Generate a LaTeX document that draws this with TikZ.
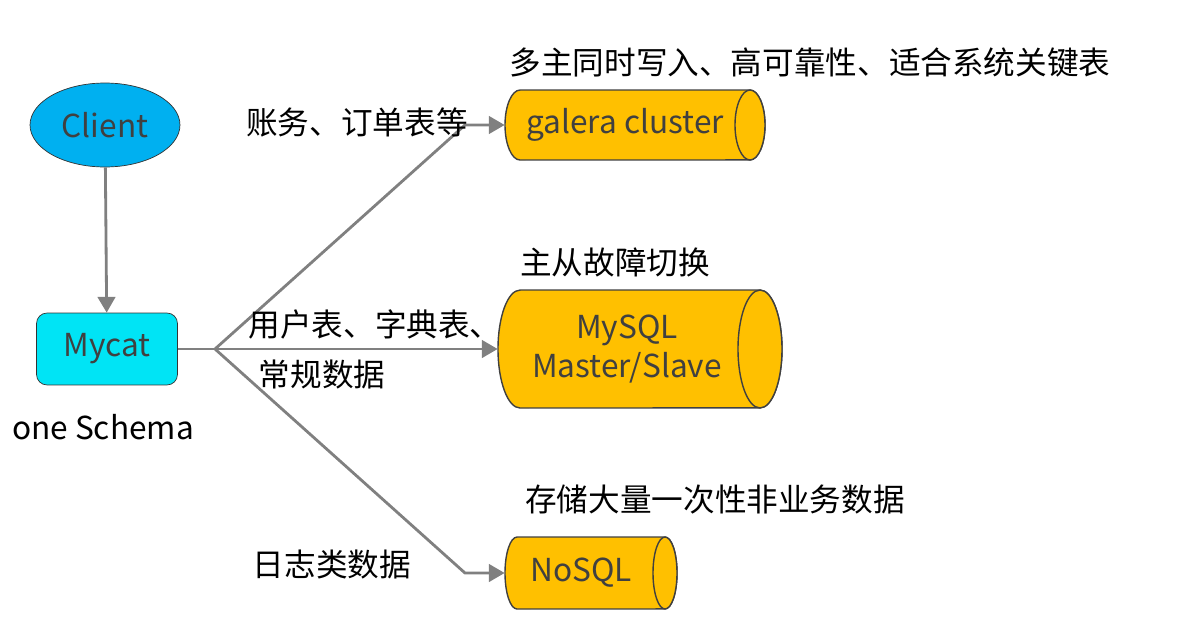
\documentclass[tikz,border=0pt]{standalone}
\usepackage{fontspec}
\setmainfont{Noto Sans CJK SC}
\usetikzlibrary{shapes.geometric,arrows.meta}
\definecolor{cyl}{RGB}{255,192,0}
\definecolor{cli}{RGB}{0,176,240}
\definecolor{myc}{RGB}{0,228,245}
\definecolor{ln}{RGB}{128,128,128}
% name cx cy w h rx
\newcommand\mycyl[6]{%
 \path[draw=black!75,fill=cyl,line width=0.8pt] ({#2-#4/2+#6},{#3-#5/2}) -- ({#2+#4/2-#6},{#3-#5/2})
   arc[start angle=90,end angle=-90,x radius=#6*0.02cm,y radius=#5*0.01cm]
   -- ({#2-#4/2+#6},{#3+#5/2})
   arc[start angle=270,end angle=90,x radius=#6*0.02cm,y radius=#5*0.01cm] -- cycle;
 \draw[draw=black!75,fill=cyl,line width=0.8pt] ({#2+#4/2-#6},#3) ellipse[x radius=#6*0.02cm,y radius=#5*0.01cm];
 \node[minimum width=#4*0.02cm,minimum height=#5*0.02cm,inner sep=0] (#1) at (#2,#3) {};}
\begin{document}
\begin{tikzpicture}[x=0.02cm,y=-0.02cm,
  txt/.style={font=\fontsize{18pt}{20pt}\selectfont,inner sep=0},
  ar/.style={draw=ln,line width=1.6pt,-{Triangle[length=9pt,width=10pt]}},
  ln/.style={draw=ln,line width=1.6pt}]
\useasboundingbox (0,0) rectangle (1201,622);
\node[ellipse,draw=black!80,fill=cli,minimum width=3cm,minimum height=1.68cm,txt,text=black!75] (client) at (105,125) {Client};
\node[rounded corners=6pt,draw=black!80,fill=myc,minimum width=2.82cm,minimum height=1.44cm,txt,text=black!75] (mycat) at (107,349) {Mycat};
\node[txt] (schema) at (103,427) {one Schema};
\mycyl{galera}{635}{125}{260}{70}{15}
\mycyl{mysql}{640}{349}{284}{118}{22}
\mycyl{nosql}{591}{573}{172}{72}{12}
\node[txt,text=black!75] (gt) at (625,125) {galera cluster};
\node[txt,text=black!75,align=center] (mt) at (627,349) {MySQL\\[2pt]Master/Slave};
\node[txt,text=black!75] (nt) at (581,573) {NoSQL};
\coordinate (b) at (215,349);
\coordinate (g1) at (465,125);
\coordinate (n1) at (465,573);
\draw[ar] (client) -- (mycat);
\draw[ln] (mycat.east) -- (b);
\draw[ar] (b) -- (g1) -- (galera.west);
\draw[ar] (b) -- (mysql.west);
\draw[ar] (b) -- (n1) -- (nosql.west);
\node[txt] (t1) at (810,62) {多主同时写入、高可靠性、适合系统关键表};
\node[txt] (t2) at (357,122) {账务、订单表等};
\node[txt] (t3) at (615,262) {主从故障切换};
\node[txt] (t4) at (375,324) {用户表、字典表、};
\node[txt] (t5) at (322,375) {常规数据};
\node[txt] (t6) at (715,500) {存储大量一次性非业务数据};
\node[txt] (t7) at (332,565) {日志类数据};
\end{tikzpicture}
\end{document}
